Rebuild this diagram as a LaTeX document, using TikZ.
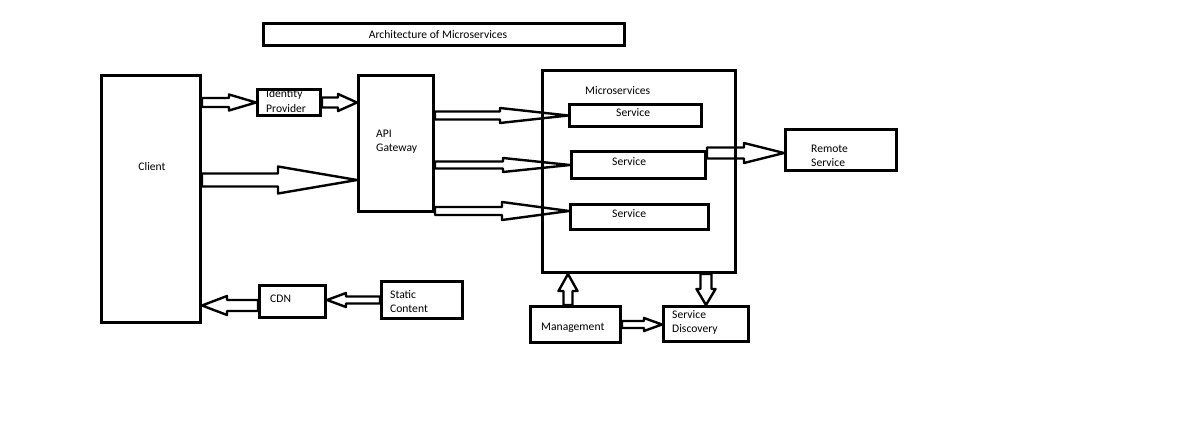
\documentclass[tikz,border=0pt]{standalone}
\usepackage{fontspec}
\setmainfont{Carlito}
\usetikzlibrary{calc}
\tikzset{
  box/.style={draw, line width=3pt, rectangle, inner sep=0pt},
  txt/.style={inner sep=0pt, font=\fontsize{11.6}{14}\selectfont},
  blk/.style={draw, line width=2.4pt, line join=round},
}
% horizontal block arrow: from, to, shaft half width, head half width, head length (signed)
\newcommand\harrow[5]{\draw[blk] let \p1=(#1), \p2=(#2) in
  (\x1,{\y2+#3pt}) -- ({\x2-(#5pt)},{\y2+#3pt}) -- ({\x2-(#5pt)},{\y2+#4pt}) -- (\p2)
  -- ({\x2-(#5pt)},{\y2-#4pt}) -- ({\x2-(#5pt)},{\y2-#3pt}) -- (\x1,{\y2-#3pt}) -- cycle;}
% vertical block arrow
\newcommand\varrow[5]{\draw[blk] let \p1=(#1), \p2=(#2) in
  ({\x2-#3pt},\y1) -- ({\x2-#3pt},{\y2-(#5pt)}) -- ({\x2-#4pt},{\y2-(#5pt)}) -- (\p2)
  -- ({\x2+#4pt},{\y2-(#5pt)}) -- ({\x2+#3pt},{\y2-(#5pt)}) -- ({\x2+#3pt},\y1) -- cycle;}
\begin{document}
\begin{tikzpicture}[x=1pt, y=-1pt]
\fill[white] (0,0) rectangle (1200,428);
\useasboundingbox (0,0) rectangle (1200,428);

% boxes
\node[box, minimum width=361, minimum height=22] (title) at (444,34.5) {};
\node[box, minimum width=99, minimum height=247] (client) at (151,199) {};
\node[box, minimum width=63, minimum height=26] (ip) at (289,102.5) {};
\node[box, minimum width=75, minimum height=136] (api) at (396,143.5) {};
\node[box, minimum width=193, minimum height=202] (ms) at (639,171.5) {};
\node[box, minimum width=132, minimum height=22] (s1) at (635.5,115.5) {};
\node[box, minimum width=134, minimum height=27] (s2) at (638.5,165) {};
\node[box, minimum width=138, minimum height=25] (s3) at (639.5,217) {};
\node[box, minimum width=111, minimum height=41] (remote) at (841,150) {};
\node[box, minimum width=66, minimum height=32] (cdn) at (292.5,301.5) {};
\node[box, minimum width=81, minimum height=37] (static) at (422,300) {};
\node[box, minimum width=90, minimum height=36] (mgmt) at (575.5,324.5) {};
\node[box, minimum width=85, minimum height=35] (sd) at (706,324) {};

% texts
\node[txt, anchor=base] (t-title) at (438,39) {Architecture of Microservices};
\node[txt, anchor=base] (t-client) at (152,170) {Client};
\node[txt, anchor=base west] (t-ip1) at (266,98) {Identity};
\node[txt, anchor=base west] (t-ip2) at (266,112) {Provider};
\node[txt, anchor=base west] (t-api1) at (376,137) {API};
\node[txt, anchor=base west] (t-api2) at (376,151.5) {Gateway};
\node[txt, anchor=base west] (t-ms) at (585,95) {Microservices};
\node[txt, anchor=base west] (t-s1) at (616,117) {Service};
\node[txt, anchor=base west] (t-s2) at (612,165) {Service};
\node[txt, anchor=base west] (t-s3) at (612,217) {Service};
\node[txt, anchor=base west] (t-rs1) at (811,152) {Remote};
\node[txt, anchor=base west] (t-rs2) at (811,166) {Service};
\node[txt, anchor=base west] (t-cdn) at (270,302) {CDN};
\node[txt, anchor=base west] (t-st1) at (390,298) {Static};
\node[txt, anchor=base west] (t-st2) at (390,312) {Content};
\node[txt, anchor=base west] (t-mg) at (541,330.5) {Management};
\node[txt, anchor=base west] (t-sd1) at (672,318) {Service};
\node[txt, anchor=base west] (t-sd2) at (672,332) {Discovery};

% arrow anchors
\coordinate (apiin) at ($(api.west)+(0,36.5)$);
\coordinate (s3in) at ($(s3.west)+(0,-6)$);
\coordinate (rsin) at ($(remote.west)+(0,3)$);
\coordinate (cdnout) at ($(cdn.west)+(0,4)$);
\coordinate (mgup) at ($(mgmt.north)+(-7.5,0)$);

% arrows
\harrow{client.east |- ip.west}{ip.west}{4.5}{8}{27}
\harrow{ip.east}{api.west |- ip.east}{5}{8.5}{19}
\harrow{client.east |- apiin}{apiin}{6.5}{13.5}{79}
\harrow{api.east |- s1.west}{s1.west}{4}{7.5}{68}
\harrow{api.east |- s2.west}{s2.west}{3.5}{7}{67}
\harrow{api.east |- s3in}{s3in}{4}{9}{67}
\harrow{s2.east |- rsin}{rsin}{5.5}{10}{40}
\harrow{static.west}{cdn.east |- static.west}{3.5}{7}{-19}
\harrow{cdnout}{client.east |- cdnout}{5.5}{9.5}{-25}
\varrow{mgup}{ms.south -| mgup}{4.5}{9.5}{17}
\varrow{ms.south -| sd.north}{sd.north}{5.5}{9.5}{-16}
\harrow{mgmt.east}{sd.west |- mgmt.east}{3.5}{6.5}{18}
\end{tikzpicture}
\end{document}
